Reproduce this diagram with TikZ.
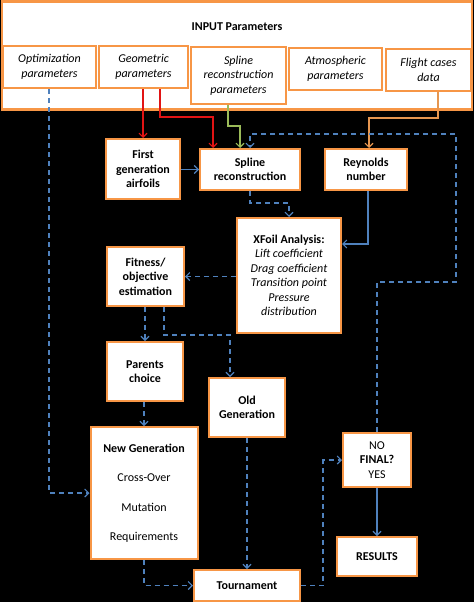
\documentclass[tikz,border=0pt]{standalone}
\usepackage{fontspec}
\setmainfont{Carlito}
\usetikzlibrary{arrows.meta,calc}
\definecolor{boxorange}{RGB}{247,150,70}
\definecolor{lineblue}{RGB}{79,129,189}
\definecolor{linered}{RGB}{225,20,20}
\definecolor{linegreen}{RGB}{155,187,89}
\definecolor{lineorange}{RGB}{230,150,80}
\tikzset{
  box/.style={draw=boxorange, fill=white, line width=2pt, align=center, inner sep=0pt,
    font=\fontsize{12}{14.5}\selectfont},
  inbox/.style={box, font=\fontsize{12}{14.5}\selectfont\itshape},
  bbox/.style={box, font=\fontsize{12}{14.5}\selectfont\bfseries},
  tip/.style={-{Straight Barb[length=4pt,width=8pt]}},
  flowdash/.style={draw=lineblue, line width=1.1pt, dash pattern=on 5pt off 4pt, tip},
  flowsolid/.style={draw=lineblue, line width=1.1pt, tip},
}
\begin{document}
\begin{tikzpicture}[x=1pt,y=-1pt]
\useasboundingbox (0,0) rectangle (474,602);
\fill[black] (0,0) rectangle (474,602);
% outer input box
\node[box, line width=2.5pt, minimum width=470, minimum height=108] (input) at (237,55.5) {};
\node[font=\fontsize{12}{14.5}\selectfont\bfseries] (inputlbl) at (237,27) {INPUT Parameters};
% input sub-boxes
\node[inbox, minimum width=93, minimum height=42] (opt) at (49.5,67) {Optimization\\parameters};
\node[inbox, minimum width=89, minimum height=42] (geo) at (143.5,67) {Geometric\\parameters};
\node[inbox, minimum width=95, minimum height=57] (splp) at (238.5,75.5) {Spline\\reconstruction\\parameters};
\node[inbox, minimum width=93, minimum height=42] (atm) at (335.5,69) {Atmospheric\\parameters};
\node[inbox, minimum width=85, minimum height=42] (flt) at (428.5,70) {Flight cases\\data};
% process boxes
\node[bbox, minimum width=74, minimum height=60] (first) at (143,169) {First\\generation\\airfoils};
\node[bbox, minimum width=100, minimum height=41] (spl) at (250,169.5) {Spline\\reconstruction};
\node[bbox, minimum width=82, minimum height=41] (rey) at (366,169.5) {Reynolds\\number};
\node[box, minimum width=104, minimum height=115] (xfoil) at (289,275.5) {\textbf{XFoil Analysis:}\\\textit{Lift coefficient}\\\textit{Drag coefficient}\\\textit{Transition point}\\\textit{Pressure}\\\textit{distribution}};
\node[bbox, minimum width=77, minimum height=59] (fit) at (145.5,276.5) {Fitness/\\objective\\estimation};
\node[bbox, minimum width=76, minimum height=59] (par) at (145,371.5) {Parents\\choice};
\node[bbox, minimum width=76, minimum height=59] (old) at (247,407.5) {Old\\Generation};
\node[box, minimum width=107, minimum height=132] (newg) at (144,493) {\textbf{New Generation}\\[15pt]Cross-Over\\[15pt]Mutation\\[15pt]Requirements};
\node[bbox, minimum width=106, minimum height=31] (tour) at (247,585.5) {Tournament};
\node[box, minimum width=68, minimum height=54] (fin) at (377,460) {NO\\\textbf{FINAL?}\\YES};
\node[bbox, minimum width=80, minimum height=39] (res) at (377,556.5) {RESULTS};
% input connectors
\draw[linered, line width=1.1pt, tip] (first.north |- geo.south) -- (first.north);
\draw[linered, line width=1.1pt, tip] ($(geo.south)+(16.5,0)$) |- ($(spl.north)+(-37,-31)$) -- ($(spl.north)+(-37,0)$);
\draw[linegreen, line width=1.1pt, tip] ($(splp.south)+(-10.5,0)$) |- ($(spl.north)+(-10,-22)$) -- ($(spl.north)+(-10,0)$);
\draw[black, line width=1.1pt] ($(atm.south)+(-12.5,0)$) -- ($(atm.south)+(-12.5,0)$ |- input.south);
\draw[lineorange, line width=1.1pt, tip] ($(flt.south)+(9.5,0)$) |- ($(rey.north)+(3,-30)$) -- ($(rey.north)+(3,0)$);
% flow connectors
\draw[flowsolid] (first.east |- spl.west) -- (spl.west);
\draw[flowdash] (spl.south) |- ($(xfoil.north)+(0,-14)$) -- (xfoil.north);
\draw[flowsolid] ($(rey.south)+(2,0)$) |- ($(xfoil.east)+(0,-31.5)$);
\draw[flowdash] (xfoil.west |- fit.east) -- (fit.east);
\draw[flowdash] (par.north |- fit.south) -- (par.north);
\draw[flowdash] ($(fit.south)+(18.5,0)$) |- ($(old.north)+(-17,-42)$) -- ($(old.north)+(-17,0)$);
\draw[flowdash] (newg.north |- par.south) -- (newg.north);
\draw[flowdash] ($(opt.south)+(-0.5,0)$) |- (newg.west);
\draw[flowdash] (old.south) -- (tour.north);
\draw[flowdash] (newg.south) |- (tour.west);
\draw[flowdash] (tour.east) -- ++(22,0) coordinate (tc) |- (fin.west);
\draw[flowsolid] (fin.south) -- (res.north);
\draw[flowdash] (fin.north) -- ++(0,-150) coordinate (l1) -- ++(79,0) coordinate (l2) |- ($(spl.north)+(0,-14)$) -- (spl.north);
\end{tikzpicture}
\end{document}
